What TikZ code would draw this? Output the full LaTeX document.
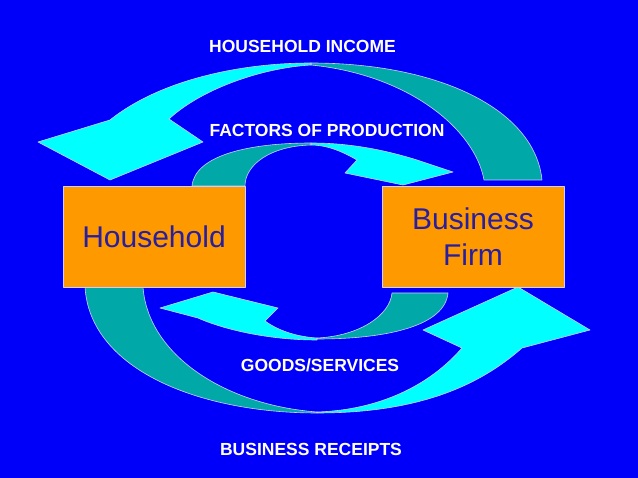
\documentclass[tikz,border=0pt]{standalone}
\usepackage{fontspec}
\setmainfont{Liberation Sans}
\definecolor{slide}{RGB}{0,0,250}
\definecolor{ribbon}{RGB}{0,255,255}
\definecolor{ribbonback}{RGB}{0,168,168}
\definecolor{boxfill}{RGB}{255,153,0}
\definecolor{boxtext}{RGB}{40,30,160}
\definecolor{rim}{RGB}{205,205,255}

\begin{document}
\begin{tikzpicture}[%
    x=1pt, y=-1pt,          % work in pixels of the slide, y going down
    line join=round,
    ]
% -------------------------------------------------
% Styles for ribbons, boxes and captions
\tikzset{
  front/.style={fill=ribbon, draw=rim, line width=0.6pt},
  back/.style={fill=ribbonback, draw=rim, line width=0.6pt},
  box/.style={draw=rim, fill=boxfill, line width=0.6pt, inner sep=0pt,
    minimum width=182pt, minimum height=101pt, align=center,
    text=boxtext, font=\fontsize{30}{36}\selectfont},
  caption/.style={anchor=base, text=white, font=\fontsize{17.5}{20}\selectfont\bfseries}
}
\fill[slide] (0,0) rectangle (638,478);
% -------------------------------------------------
% Outer top ribbon: firm -> household (income)
\path[back] (311,63) .. controls (440,63) and (535,110) .. (542,180)
  -- (484,180) .. controls (475,130) and (410,75) .. (311,65) -- cycle;
\path[front] (169,119) -- (203,142) -- (110,180) -- (38,142) -- (110,120)
  .. controls (160,80) and (240,63) .. (311,63)
  -- (311,65) .. controls (260,68) and (200,90) .. (169,119) -- cycle;
% Inner top ribbon: household -> firm (factors)
\path[back] (192,186) .. controls (195,155) and (250,143) .. (311,143)
  -- (311,145) .. controls (270,146) and (245,165) .. (245,186) -- cycle;
\path[front] (311,143) .. controls (350,143) and (385,150) .. (417,160)
  -- (453,172) -- (403,185) -- (345,173) -- (357,160)
  .. controls (340,150) and (325,145) .. (311,145) -- cycle;
% Inner bottom ribbon: firm -> household (goods)
\path[back] (392,293) -- (448,293) .. controls (445,325) and (390,339) .. (317,339)
  -- (317,338) .. controls (360,336) and (390,315) .. (392,293) -- cycle;
\path[front] (317,340) .. controls (270,340) and (225,330) .. (198,318)
  -- (160,308) -- (213,292) -- (278,308) -- (265,321)
  .. controls (280,332) and (300,337) .. (317,338) -- cycle;
% Outer bottom ribbon: household -> firm (receipts)
\path[back] (85,287) .. controls (90,370) and (200,413) .. (317,413)
  -- (317,412) .. controls (225,405) and (148,355) .. (143,287) -- cycle;
\path[front] (317,413) .. controls (420,413) and (480,385) .. (522,348)
  -- (590,330) -- (518,287) -- (423,330) -- (462,348)
  .. controls (430,385) and (380,410) .. (317,412) -- cycle;
% -------------------------------------------------
% The two boxes
\node [box] (household) at (154,236.5) {Household};
\node [box] (firm) at (473,236.5) {Business\\Firm};
% Captions
\node [caption] (income) at (302.5,53) {HOUSEHOLD INCOME};
\node [caption] (factors) at (327,137) {FACTORS OF PRODUCTION};
\node [caption] (goods) at (320,372) {GOODS/SERVICES};
\node [caption] (receipts) at (311,456) {BUSINESS RECEIPTS};
% -------------------------------------------------
\end{tikzpicture}
\end{document}
